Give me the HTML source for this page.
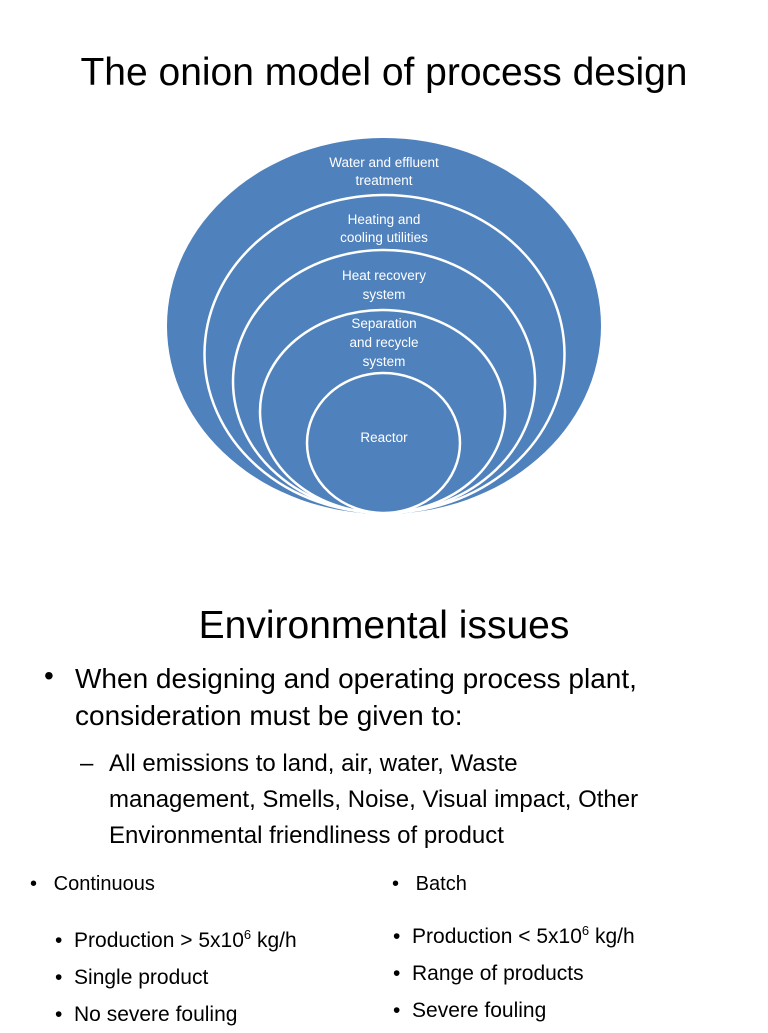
<!DOCTYPE html>
<html><head><meta charset="utf-8"><style>
body{margin:0;width:768px;height:1024px;background:#fff;overflow:hidden;position:relative;font-family:"Liberation Sans",sans-serif;color:#000}
.t{position:absolute;white-space:nowrap}
sup{font-size:13px;line-height:0}
</style></head><body>
<div class="t" style="left:0;width:768px;text-align:center;top:51px;font-size:39px">The onion model of process design</div>
<svg style="position:absolute;left:0;top:0" width="768" height="530">
<g fill="#4f81bd" stroke="#fff" stroke-width="2.5">
<ellipse cx="384" cy="326" rx="217" ry="188" stroke="none"/>
<ellipse cx="384.5" cy="354" rx="180" ry="159"/>
<ellipse cx="384" cy="381.5" rx="151" ry="131.5"/>
<ellipse cx="382.5" cy="411.5" rx="122.5" ry="101.5"/>
<ellipse cx="383.5" cy="443" rx="76.5" ry="70"/>
</g>
<g fill="#fff" font-size="13.5" text-anchor="middle" font-family="Liberation Sans, sans-serif">
<text x="384" y="167">Water and effluent</text><text x="384" y="185">treatment</text>
<text x="384" y="224">Heating and</text><text x="384" y="242">cooling utilities</text>
<text x="384" y="280">Heat recovery</text><text x="384" y="299">system</text>
<text x="384" y="328">Separation</text><text x="384" y="347">and recycle</text><text x="384" y="366">system</text>
<text x="384" y="442">Reactor</text>
</g></svg>
<div class="t" style="left:0;width:768px;text-align:center;top:604px;font-size:39px">Environmental issues</div>
<div class="t" style="left:44px;top:660px;font-size:28px">•</div>
<div class="t" style="left:75px;top:660px;font-size:28px;line-height:37px">When designing and operating process plant,<br>consideration must be given to:</div>
<div class="t" style="left:80px;top:746px;font-size:24px;line-height:36px">–</div>
<div class="t" style="left:109px;top:746px;font-size:24px;line-height:36px">All emissions to land, air, water, Waste<br>management, Smells, Noise, Visual impact, Other<br>Environmental friendliness of product</div>
<div class="t" style="left:30px;top:873px;font-size:20px">•&nbsp;&nbsp;&nbsp;Continuous</div>
<div class="t" style="left:392px;top:873px;font-size:20px">•&nbsp;&nbsp;&nbsp;Batch</div>
<div class="t" style="left:55px;top:922px;font-size:21px;line-height:37px">•&nbsp;&nbsp;Production &gt; 5x10<sup>6</sup> kg/h<br>•&nbsp;&nbsp;Single product<br>•&nbsp;&nbsp;No severe fouling</div>
<div class="t" style="left:393px;top:918px;font-size:21px;line-height:37px">•&nbsp;&nbsp;Production &lt; 5x10<sup>6</sup> kg/h<br>•&nbsp;&nbsp;Range of products<br>•&nbsp;&nbsp;Severe fouling</div>
</body></html>
